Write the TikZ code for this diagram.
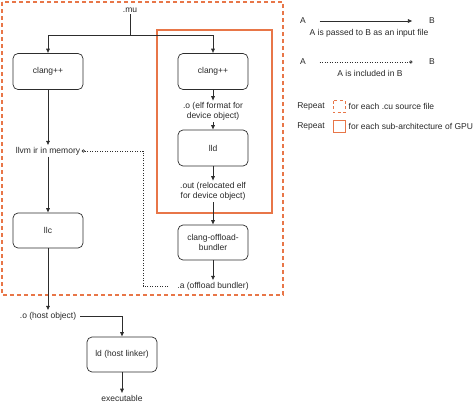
\documentclass[tikz,border=0pt]{standalone}
\usepackage{fontspec}
\setmainfont{Liberation Sans}
\usetikzlibrary{arrows.meta}
\definecolor{orng}{RGB}{232,118,72}
\definecolor{txt}{RGB}{40,40,40}
\definecolor{ln}{RGB}{45,45,45}
\begin{document}
\begin{tikzpicture}[x=1pt,y=-1pt,
  font=\fontsize{8.5}{10.2}\selectfont, text=txt,
  proc/.style={draw=ln, rounded corners=5pt, minimum width=70pt, minimum height=36pt, align=center, line width=0.7pt},
  lbl/.style={align=center, inner sep=1.5pt},
  arr/.style={draw=ln, line width=0.7pt, -{Latex[length=4.5pt,width=4.2pt]}},
  plain/.style={draw=ln, line width=0.7pt},
  inc/.style={draw=ln, line width=0.6pt, dash pattern=on 1.2pt off 1.3pt, -{Circle[open,length=3.2pt,width=3.2pt,line width=0.6pt]}},
  gpubox/.style={draw=orng, line width=1.3pt},
  cubox/.style={draw=orng, line width=1.3pt, dash pattern=on 4pt off 3pt}
]
\useasboundingbox (0,0) rectangle (474,408);

% repeat regions
\draw[cubox] (2,2) rectangle (283,295);
\draw[gpubox] (157,30) rectangle (272,213);

% nodes
\node[lbl] (mu) at (130,10) {.mu};
\coordinate (j) at (130,35);
\node[proc] (cl1) at (48,71.5) {clang++};
\node[proc] (cl2) at (213,71.5) {clang++};
\node[lbl] (elf) at (213,111.5) {.o (elf format for\\device object)};
\node[proc] (lld) at (213,148) {lld};
\node[lbl] (out) at (213,191.5) {.out (relocated elf\\for device object)};
\node[proc, minimum height=35pt] (bund) at (213,242.5) {clang-offload-\\bundler};
\node[lbl, inner xsep=9pt] (a) at (213,286) {.a (offload bundler)};
\node[lbl] (llvm) at (48,151) {llvm ir in memory};
\node[proc, minimum height=35pt] (llc) at (48,230.5) {llc};
\node[lbl, inner xsep=4pt] (ho) at (48,316) {.o (host object)};
\node[proc, minimum height=35pt] (ld) at (122,354.5) {ld (host linker)};
\node[lbl] (exe) at (122,398) {executable};

% connectors
\draw[plain] (mu) -- (j);
\draw[arr] (j) -| (cl1.north);
\draw[arr] (j) -| (cl2.north);
\draw[arr] (cl1) -- (llvm);
\draw[arr] (llvm) -- (llc);
\draw[arr] (llc) -- (ho);
\draw[arr] (ho.east) -| (ld.north);
\draw[arr] (ld) -- (exe);
\draw[arr] (cl2) -- (elf);
\draw[arr] (elf) -- (lld);
\draw[arr] (lld) -- (out);
\draw[arr] (out) -- (bund);
\draw[arr] (bund) -- (a);
\draw[inc] (a.west) -- (143,286) |- (llvm.east);

% legend
\node[lbl] (A1) at (303,21) {A};
\node[lbl] (B1) at (432,21) {B};
\draw[arr] ([xshift=12pt]A1.east) -- ([xshift=-15pt]B1.west);
\node[lbl] (t1) at (369,33) {A is passed to B as an input file};
\node[lbl] (A2) at (303,62) {A};
\node[lbl] (B2) at (432,62) {B};
\draw[inc] ([xshift=12pt]A2.east) -- ([xshift=-15pt]B2.west);
\node[lbl] (t2) at (370,73.5) {A is included in B};
\node[lbl] (r1) at (311,106) {Repeat};
\draw[cubox, line width=1pt, dash pattern=on 3pt off 2.5pt] (333,100.5) rectangle (345,112.5);
\node[lbl, anchor=west] (f1) at (347,106) {for each .cu source file};
\node[lbl] (r2) at (311,126) {Repeat};
\draw[gpubox, line width=1pt] (333,120) rectangle (345,132);
\node[lbl, anchor=west] (f2) at (347,126) {for each sub-architecture of GPU};
\end{tikzpicture}
\end{document}
